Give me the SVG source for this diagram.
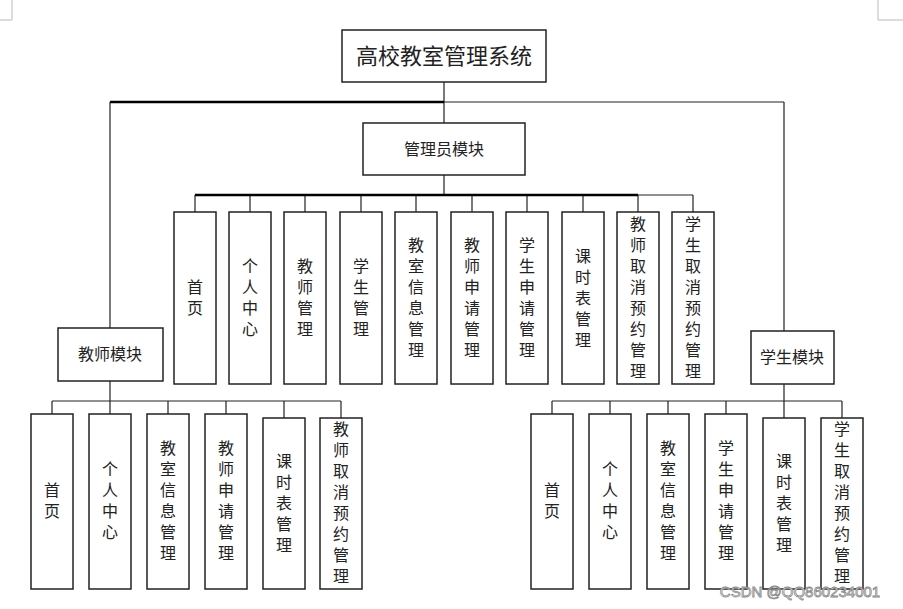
<svg xmlns="http://www.w3.org/2000/svg" width="903" height="609" viewBox="0 0 903 609">
<style>
.b{fill:#fff;stroke:#222;stroke-width:1.5}
.t{font-family:"Noto Sans CJK SC","Liberation Sans",sans-serif;font-size:16px;fill:#222;text-anchor:middle}
.v{font-family:"Noto Sans CJK SC","Liberation Sans",sans-serif;font-size:16px;fill:#222;text-anchor:middle;writing-mode:vertical-rl;letter-spacing:5px}
.l{fill:none;stroke:#222;stroke-width:1.2}
</style>
<rect width="903" height="609" fill="#fff"/>
<path d="M12 0V20H0M878 0V20H903" fill="none" stroke="#bbb"/>
<g id="connectors">
<path class="l" d="M444 82V123M110 102H784M110 102V328M784 102V331" />
<path d="M110 102H444" stroke="#000" stroke-width="2.5"/>
<path class="l" d="M444 175V195M195 195H693M195 195V212M250 195V212M305 195V212M361 195V212M416 195V212M472 195V212M527 195V212M583 195V212M638 195V212M693 195V212"/>
<path d="M195 195H638" stroke="#000" stroke-width="2.5"/>
<path class="l" d="M110 381V401M52 401H341M52 401V414M110 401V414M168 401V414M226 401V414M284 401V418M341 401V418"/>
<path class="l" d="M784 384V401M552 401H842M552 401V414M610 401V414M668 401V414M726 401V414M784 401V418M842 401V418"/>
</g>
<g id="root"><rect class="b" x="342" y="30" width="204" height="52"/><text class="t" x="444" y="64" style="font-size:22px">高校教室管理系统</text></g>
<g id="admin"><rect class="b" x="363" y="123" width="162" height="52"/><text class="t" x="444" y="155">管理员模块</text></g>
<g id="teacher"><rect class="b" x="58" y="328" width="105" height="53"/><text class="t" x="110" y="360">教师模块</text></g>
<g id="student"><rect class="b" x="751" y="331" width="83" height="53"/><text class="t" x="792" y="363">学生模块</text></g>
<g id="admin-items">
<rect class="b" x="174" y="212" width="42" height="172"/><text class="v" x="195" y="300">首页</text>
<rect class="b" x="229" y="212" width="42" height="172"/><text class="v" x="250" y="300">个人中心</text>
<rect class="b" x="284" y="212" width="42" height="172"/><text class="v" x="305" y="300">教师管理</text>
<rect class="b" x="340" y="212" width="42" height="172"/><text class="v" x="361" y="300">学生管理</text>
<rect class="b" x="395" y="212" width="42" height="172"/><text class="v" x="416" y="300">教室信息管理</text>
<rect class="b" x="451" y="212" width="42" height="172"/><text class="v" x="472" y="300">教师申请管理</text>
<rect class="b" x="506" y="212" width="42" height="172"/><text class="v" x="527" y="300">学生申请管理</text>
<rect class="b" x="562" y="212" width="42" height="172"/><text class="v" x="583" y="300">课时表管理</text>
<rect class="b" x="617" y="212" width="42" height="172"/><text class="v" x="638" y="300">教师取消预约管理</text>
<rect class="b" x="672" y="212" width="42" height="172"/><text class="v" x="693" y="300">学生取消预约管理</text>
</g>
<g id="teacher-items">
<rect class="b" x="31" y="414" width="42" height="175"/><text class="v" x="52" y="503">首页</text>
<rect class="b" x="89" y="414" width="42" height="175"/><text class="v" x="110" y="503">个人中心</text>
<rect class="b" x="147" y="414" width="42" height="175"/><text class="v" x="168" y="503">教室信息管理</text>
<rect class="b" x="205" y="414" width="42" height="175"/><text class="v" x="226" y="503">教师申请管理</text>
<rect class="b" x="263" y="418" width="42" height="171"/><text class="v" x="284" y="505">课时表管理</text>
<rect class="b" x="320" y="418" width="42" height="171"/><text class="v" x="341" y="505">教师取消预约管理</text>
</g>
<g id="student-items">
<rect class="b" x="531" y="414" width="42" height="175"/><text class="v" x="552" y="503">首页</text>
<rect class="b" x="589" y="414" width="42" height="175"/><text class="v" x="610" y="503">个人中心</text>
<rect class="b" x="647" y="414" width="42" height="175"/><text class="v" x="668" y="503">教室信息管理</text>
<rect class="b" x="705" y="414" width="42" height="175"/><text class="v" x="726" y="503">学生申请管理</text>
<rect class="b" x="763" y="418" width="42" height="171"/><text class="v" x="784" y="505">课时表管理</text>
<rect class="b" x="821" y="418" width="42" height="171"/><text class="v" x="842" y="505">学生取消预约管理</text>
</g>
<text x="800" y="597" style="font-family:'Liberation Sans',sans-serif;font-size:15px;fill:#fff;stroke:#888;stroke-width:0.8;text-anchor:middle">CSDN @QQ860234001</text>
</svg>
